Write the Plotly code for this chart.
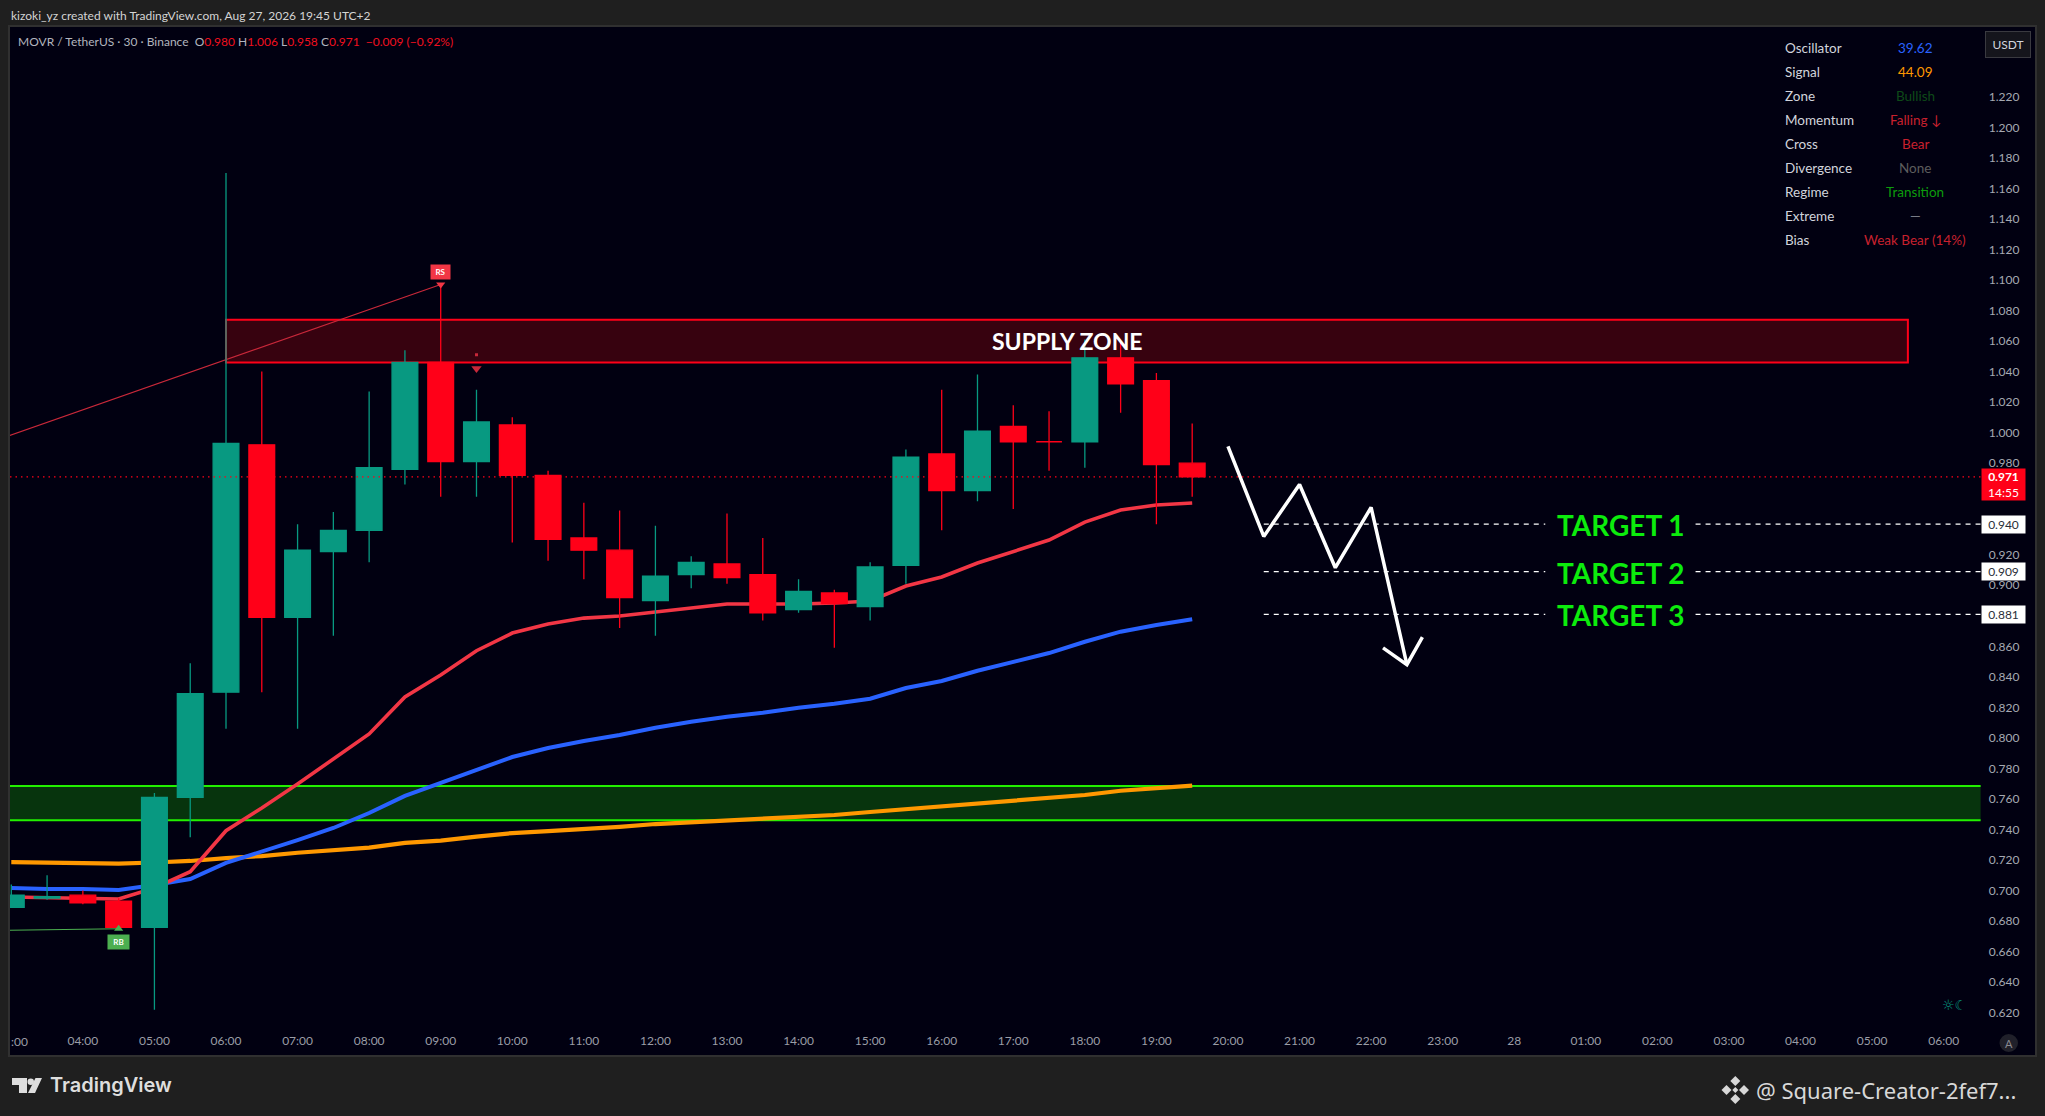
import plotly.graph_objects as go
import pandas as pd

# 30 minute bars, MOVR / TetherUS
bar_times = pd.date_range("2026-08-27 03:00", periods=34, freq="30min")
opens = [0.689, 0.695, 0.697, 0.693, 0.676, 0.761, 0.830, 0.992, 0.879, 0.922, 0.936, 0.976, 1.046, 0.981, 1.005, 0.972, 0.931,
         0.923, 0.890, 0.907, 0.914, 0.907, 0.884, 0.895, 0.886, 0.913, 0.986, 0.962, 1.004, 0.994, 0.994, 1.049, 1.034, 0.980]
highs = [0.704, 0.710, 0.700, 0.695, 0.764, 0.849, 1.170, 1.040, 0.940, 0.948, 1.027, 1.054, 1.097, 1.028, 1.010, 0.975, 0.954,
         0.949, 0.939, 0.919, 0.947, 0.931, 0.904, 0.897, 0.915, 0.989, 1.028, 1.038, 1.018, 1.014, 1.061, 1.059, 1.039, 1.006]
lows = [0.689, 0.694, 0.691, 0.675, 0.622, 0.735, 0.806, 0.830, 0.806, 0.867, 0.915, 0.966, 0.958, 0.958, 0.928, 0.916, 0.904,
        0.872, 0.867, 0.898, 0.901, 0.877, 0.882, 0.859, 0.877, 0.901, 0.936, 0.955, 0.950, 0.975, 0.977, 1.013, 0.940, 0.958]
closes = [0.697, 0.696, 0.692, 0.676, 0.761, 0.829, 0.993, 0.879, 0.923, 0.936, 0.977, 1.046, 0.981, 1.007, 0.972, 0.930, 0.923,
          0.892, 0.906, 0.915, 0.905, 0.882, 0.896, 0.888, 0.912, 0.984, 0.962, 1.001, 0.994, 0.994, 1.049, 1.032, 0.979, 0.971]

ema_red = [0.6958, 0.6955, 0.6951, 0.6945, 0.7017, 0.7124, 0.7392, 0.7541, 0.7698, 0.7862, 0.8026, 0.8268, 0.8412, 0.8571, 0.8687, 0.8746, 0.8785,
           0.8799, 0.8825, 0.8851, 0.8877, 0.8877, 0.8877, 0.8884, 0.8897, 0.8995, 0.9054, 0.9146, 0.9218, 0.9296, 0.9414, 0.9493, 0.9526, 0.9539]
ema_blue = [0.7017, 0.7010, 0.7010, 0.7004, 0.7037, 0.7076, 0.7181, 0.7253, 0.7331, 0.7410, 0.7508, 0.7620, 0.7705, 0.7796, 0.7875, 0.7934, 0.7980,
            0.8019, 0.8067, 0.8106, 0.8139, 0.8165, 0.8198, 0.8224, 0.8257, 0.8327, 0.8373, 0.8440, 0.8499, 0.8556, 0.8630, 0.8696, 0.8740, 0.8777]
ema_orange = [0.7187, 0.7184, 0.7181, 0.7177, 0.7184, 0.7194, 0.7213, 0.7226, 0.7248, 0.7266, 0.7281, 0.7312, 0.7327, 0.7353, 0.7377, 0.7390, 0.7403,
              0.7418, 0.7436, 0.7449, 0.7462, 0.7475, 0.7484, 0.7495, 0.7515, 0.7534, 0.7549, 0.7567, 0.7587, 0.7606, 0.7626, 0.7654, 0.7672, 0.7687]

price_ticks = [round(0.62 + i * 0.02, 2) for i in range(31)]
hour_ticks = pd.date_range("2026-08-27 04:00", periods=27, freq="60min")
hour_labels = ["28" if t.hour == 0 else t.strftime("%H:%M") for t in hour_ticks]

supply_zone = [1.046, 1.074]
demand_zone = [0.746, 0.7685]
last_price = 0.971
targets = [0.940, 0.909, 0.881]
target_names = ["TARGET 1", "TARGET 2", "TARGET 3"]

path_times = ["2026-08-27 20:00", "2026-08-27 20:30", "2026-08-27 21:00", "2026-08-27 21:30", "2026-08-27 22:00", "2026-08-27 22:30"]
path_prices = [0.991, 0.932, 0.966, 0.9115, 0.951, 0.848]
head_times = ["2026-08-27 22:10", "2026-08-27 22:30", "2026-08-27 22:43"]
head_prices = [0.859, 0.848, 0.866]

trend_times = ["2026-08-27 02:58", "2026-08-27 09:00"]
trend_prices = [0.998, 1.097]
support_times = ["2026-08-27 02:58", "2026-08-27 04:30"]
support_prices = [0.674, 0.675]

panel_rows = ["Oscillator", "Signal", "Zone", "Momentum", "Cross", "Divergence", "Regime", "Extreme", "Bias"]
panel_values = ["39.62", "44.09", "Bullish", "Falling ↓", "Bear", "None", "Transition", "—", "Weak Bear (14%)"]
panel_colors = ["#2962ff", "#ff9800", "#0e4a18", "#c8202e", "#c8202e", "#5d5d5d", "#0c9c0c", "#787b86", "#c8202e"]

X_RANGE = ["2026-08-27 02:58:55", "2026-08-28 07:16:34"]
Y_RANGE = [0.5923, 1.2657]
ZONE_END = "2026-08-28 05:30"
AXIS_EDGE = "2026-08-28 06:31"
FONT = "Lato"
BG = "#010011"
FRAME = "#1f1f1f"
UP = "#089981"
DOWN = "#ff0018"
GREEN = "#22f000"


def px(x):
    return (x - 10) / 2025


def py(y):
    return 1 - (y - 27) / 1028


def note(fig, x, y, text, size=12, color="#b2b5be", xanchor="left", family=FONT, **kw):
    kw.setdefault("borderpad", 0)
    fig.add_annotation(xref="paper", yref="paper", x=px(x), y=py(y), text=text, showarrow=False,
                       xanchor=xanchor, yanchor="middle", font=dict(family=family, size=size, color=color), **kw)


def poly(points):
    return "M" + " L".join(f"{px(a):.5f},{py(b):.5f}" for a, b in points) + " Z"


def diamond(cx, cy, r):
    return poly([(cx, cy - r), (cx + r, cy), (cx, cy + r), (cx - r, cy)])


fig = go.Figure()

fig.add_shape(type="rect", x0="2026-08-27 06:00", x1=ZONE_END, y0=supply_zone[0], y1=supply_zone[1],
              line=dict(color=DOWN, width=2), fillcolor="#37020f", layer="below")
fig.add_shape(type="rect", x0="2026-08-27 02:00", x1=AXIS_EDGE, y0=demand_zone[0], y1=demand_zone[1],
              line=dict(width=0), fillcolor="#07340d", layer="below")
for level in demand_zone:
    fig.add_shape(type="line", x0="2026-08-27 02:00", x1=AXIS_EDGE, y0=level, y1=level,
                  line=dict(color=GREEN, width=2), layer="below")

fig.add_trace(go.Scatter(x=bar_times, y=ema_orange, mode="lines", line=dict(color="#ff9800", width=4.2)))
fig.add_trace(go.Scatter(x=bar_times, y=ema_blue, mode="lines", line=dict(color="#2962ff", width=4)))
fig.add_trace(go.Scatter(x=bar_times, y=ema_red, mode="lines", line=dict(color="#f23645", width=3.6)))
fig.add_trace(go.Scatter(x=trend_times, y=trend_prices, mode="lines", line=dict(color="#c9283a", width=1.2)))
fig.add_trace(go.Scatter(x=support_times, y=support_prices, mode="lines", line=dict(color="#4caf50", width=1.1)))

# target levels, the line stops around the label
for level, name in zip(targets, target_names):
    fig.add_trace(go.Scatter(x=["2026-08-27 20:30", "2026-08-28 00:26", None, "2026-08-28 02:32", AXIS_EDGE],
                             y=[level, level, None, level, level], mode="lines",
                             line=dict(color="#ffffff", width=1.3, dash="5px,5px")))
    fig.add_annotation(x="2026-08-28 01:29", y=level, yshift=-1, text=f"<b>{name}</b>", showarrow=False,
                       font=dict(family=FONT, size=28, color="#0cec0c"))

# candles sit on an overlay pair so they cover the moving averages
fig.add_trace(go.Candlestick(x=bar_times, open=opens, high=highs, low=lows, close=closes, xaxis="x2", yaxis="y2",
                             increasing=dict(line=dict(color=UP, width=1.3), fillcolor=UP),
                             decreasing=dict(line=dict(color=DOWN, width=1.3), fillcolor=DOWN),
                             whiskerwidth=0))
fig.add_trace(go.Scatter(x=[X_RANGE[0], AXIS_EDGE], y=[last_price, last_price], mode="lines", xaxis="x2", yaxis="y2",
                         line=dict(color=DOWN, width=1.2, dash="1.5px,4px")))
fig.add_trace(go.Scatter(x=path_times, y=path_prices, mode="lines", xaxis="x2", yaxis="y2",
                         line=dict(color="#ffffff", width=3.5)))
fig.add_trace(go.Scatter(x=head_times, y=head_prices, mode="lines", xaxis="x2", yaxis="y2",
                         line=dict(color="#ffffff", width=3.5)))
fig.add_trace(go.Scatter(x=["2026-08-27 09:30"], y=[1.042], mode="markers", xaxis="x2", yaxis="y2",
                         marker=dict(symbol="triangle-down", size=9, color="#c8283a")))
fig.add_trace(go.Scatter(x=["2026-08-27 09:30"], y=[1.051], mode="markers", xaxis="x2", yaxis="y2",
                         marker=dict(symbol="square", size=3, color="#c8283a")))
fig.add_trace(go.Scatter(x=["2026-08-27 09:00"], y=[1.097], mode="markers", xaxis="x2", yaxis="y2",
                         marker=dict(symbol="triangle-down", size=8, color="#f23645")))
fig.add_trace(go.Scatter(x=["2026-08-27 04:30"], y=[0.675], mode="markers", xaxis="x2", yaxis="y2",
                         marker=dict(symbol="triangle-up", size=8, color="#4caf50")))

# RS / RB flags
fig.add_annotation(x="2026-08-27 09:00", y=1.097, yshift=13, text="<b>RS</b>", showarrow=False, bgcolor="#f23645",
                   width=19, height=14, borderpad=0, font=dict(family=FONT, size=8, color="#ffffff"))
fig.add_annotation(x="2026-08-27 04:30", y=0.675, yshift=-13, text="<b>RB</b>", showarrow=False, bgcolor="#4caf50",
                   width=21, height=14, borderpad=0, font=dict(family=FONT, size=8, color="#ffffff"))

# header texts
note(fig, 10, 15, "kizoki_yz created with TradingView.com, Aug 27, 2026 19:45 UTC+2", size=12, color="#d4d4d4")
red = '<span style="color:#f0101f">%s</span>'
note(fig, 17, 41.7, "MOVR / TetherUS · 30 · Binance  O" + red % "0.980" + " H" + red % "1.006" + " L" + red % "0.958"
     + " C" + red % "0.971" + "  " + red % "−0.009 (−0.92%)", size=12, color="#b2b5be")
note(fig, 1941, 1005, "☼☾", size=14, color="#089981", family="DejaVu Sans")
note(fig, 1067, 341, "<b>SUPPLY ZONE</b>", size=23, color="#ffffff", xanchor="center")

for i, (row, value, color) in enumerate(zip(panel_rows, panel_values, panel_colors)):
    note(fig, 1784, 48 + 24 * i, row, size=13.5, color="#d1d4dc")
    note(fig, 1915, 48 + 24 * i, value, size=13.5, color=color, xanchor="center")

# price axis labels
note(fig, 2008, 44, "USDT", size=12, color="#d1d4dc", xanchor="center", bgcolor="#15151c", bordercolor="#3a3a40",
     borderwidth=1, width=44, height=25)
for level in targets:
    note(fig, 2003.5, 96.7 + (1.22 - level) * 1526.7, f"{level:.3f}", size=12, color="#2a2e39", xanchor="center",
         bgcolor="#ffffff", width=43, height=17)
note(fig, 2003.5, 484.5, f"<b>{last_price:.3f}</b><br>14:55", size=12, color="#ffffff", xanchor="center",
     bgcolor=DOWN, width=43, height=31)
note(fig, 10, 1041.7, ":00", size=12, color="#9a9da6")
fig.add_shape(type="circle", xref="paper", yref="paper", x0=px(1999.5), x1=px(2018), y0=py(1052), y1=py(1034),
              fillcolor="#20202a", line=dict(width=0))
note(fig, 2008.7, 1043, "A", size=11, color="#8a8a90", xanchor="center")

# footer marks
for path in [poly([(12, 1078), (27, 1078), (27, 1093), (19, 1093), (19, 1085), (12, 1085)]),
             poly([(35.5, 1078), (42, 1078), (35, 1093), (28, 1093)])]:
    fig.add_shape(type="path", xref="paper", yref="paper", path=path, fillcolor="#dedede", line=dict(width=0))
fig.add_shape(type="circle", xref="paper", yref="paper", x0=px(27.5), x1=px(34), y0=py(1085), y1=py(1078.5),
              fillcolor="#dedede", line=dict(width=0))
fig.add_annotation(xref="paper", yref="paper", x=px(49), y=py(1085), text="TradingView", showarrow=False, xanchor="left",
                   yanchor="middle", borderpad=0, font=dict(family="Inter", size=20, color="#dedede", weight=600))
for cx, cy, r in [(1735.3, 1081, 5), (1726.5, 1090, 5), (1744, 1090, 5), (1735.3, 1099, 5), (1735.3, 1090, 3)]:
    fig.add_shape(type="path", xref="paper", yref="paper", path=diamond(cx, cy, r), fillcolor="#d8d8d8", line=dict(width=0))
note(fig, 1755, 1090, "@ Square-Creator-2fef7...", size=22, color="#d8d8d8", family="Noto Sans")

fig.update_layout(
    width=2045, height=1116, showlegend=False, hovermode=False,
    margin=dict(l=10, r=10, t=27, b=61, autoexpand=False),
    paper_bgcolor=FRAME, plot_bgcolor=BG,
    boxgap=0.28, boxgroupgap=0,
    font=dict(family=FONT, size=12, color="#9a9da6"),
    xaxis=dict(type="date", range=X_RANGE, showgrid=False, zeroline=False, tickvals=list(hour_ticks), ticktext=hour_labels,
               ticks="inside", ticklen=7, tickcolor="rgba(0,0,0,0)", ticklabelposition="inside",
               showline=True, mirror=True, linecolor="#303030", linewidth=2, tickfont=dict(family=FONT, size=12, color="#9a9da6")),
    yaxis=dict(range=Y_RANGE, side="right", showgrid=False, zeroline=False, tickvals=price_ticks, tickformat=".3f",
               ticks="inside", ticklen=15, tickcolor="rgba(0,0,0,0)", ticklabelposition="inside",
               showline=True, mirror=True, linecolor="#303030", linewidth=2, tickfont=dict(family=FONT, size=12, color="#a6a9b2")),
    xaxis2=dict(type="date", range=X_RANGE, overlaying="x", visible=False, rangeslider=dict(visible=False)),
    yaxis2=dict(range=Y_RANGE, overlaying="y", visible=False),
)

fig.write_html("out.html", config=dict(displayModeBar=False), post_script="document.body.style.margin='0';")
